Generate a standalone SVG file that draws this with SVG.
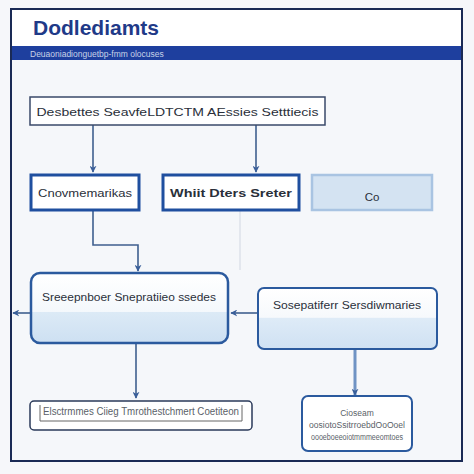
<svg xmlns="http://www.w3.org/2000/svg" width="474" height="474" viewBox="0 0 474 474">
<defs>
<style>
.t{font-family:"Liberation Sans",Arial,sans-serif;fill:#2a2f3a}
.s{fill:#5a5f68}
.con{fill:none;stroke:#3f5f8f;stroke-width:1.6}
.blue{fill:#fff;stroke:#1f4f9f;stroke-width:3}
</style>
<linearGradient id="g1" x1="0" y1="0" x2="0" y2="1">
<stop offset="0" stop-color="#ffffff"/><stop offset="0.55" stop-color="#f4f8fc"/><stop offset="0.56" stop-color="#dceaf6"/><stop offset="1" stop-color="#cde0f2"/>
</linearGradient>
<linearGradient id="g2" x1="0" y1="0" x2="0" y2="1">
<stop offset="0" stop-color="#ffffff"/><stop offset="0.48" stop-color="#f6f9fc"/><stop offset="0.5" stop-color="#deebf7"/><stop offset="1" stop-color="#cfe1f3"/>
</linearGradient>
<marker id="ah" viewBox="0 0 10 10" refX="9" refY="5" markerWidth="7" markerHeight="7" orient="auto" markerUnits="userSpaceOnUse">
<path d="M0,0 L10,5 L0,10 L3,5 Z" fill="#3a5f9a"/>
</marker>
</defs>
<rect width="474" height="474" fill="#f6f7fa"/>
<g id="frame">
<rect x="11" y="9" width="451" height="452" fill="#f5f7fa" stroke="#1a2a55" stroke-width="2"/>
<rect x="12" y="10" width="449" height="36" fill="#ffffff"/>
<text x="33" y="35" class="t" style="font-size:21px;font-weight:bold;fill:#1f3a88">Dodlediamts</text>
<rect x="12" y="46" width="449" height="14" fill="#1e3f9e"/>
<text x="30" y="57" class="t" style="font-size:8.5px;fill:#c8d2e8">Deuaoniadionguetbp-fmm olocuses</text>
</g>
<g id="connectors">
<line x1="93" y1="125" x2="93" y2="172" class="con" marker-end="url(#ah)"/>
<line x1="256" y1="125" x2="256" y2="172" class="con" marker-end="url(#ah)"/>
<polyline points="93,211 93,245 138,245 138,271" class="con" marker-end="url(#ah)"/>
<line x1="240" y1="211" x2="240" y2="270" stroke="#dde2ea" stroke-width="1.5"/>
<line x1="258" y1="313" x2="231" y2="313" class="con" stroke-width="2.5" marker-end="url(#ah)"/>
<line x1="30" y1="313" x2="13" y2="313" class="con" stroke-width="2.5" marker-end="url(#ah)"/>
<line x1="136" y1="343" x2="136" y2="398" class="con" stroke-width="2" marker-end="url(#ah)"/>
<line x1="355" y1="349" x2="355" y2="395" stroke="#6f93c4" stroke-width="3" marker-end="url(#ah)"/>
</g>
<g id="n-top">
<rect x="30" y="97" width="295" height="28" fill="#fff" stroke="#3a4a6a" stroke-width="1.5"/>
<text x="177.5" y="116" text-anchor="middle" class="t" style="font-size:11.5px" textLength="282" lengthAdjust="spacingAndGlyphs">Desbettes SeavfeLDTCTM AEssies Setttiecis</text>
</g>
<g id="n-a">
<rect x="31" y="175" width="108" height="35" class="blue"/>
<text x="85" y="197" text-anchor="middle" class="t" style="font-size:11px" textLength="94" lengthAdjust="spacingAndGlyphs">Cnovmemarikas</text>
</g>
<g id="n-b">
<rect x="163" y="175" width="136" height="35" class="blue"/>
<text x="231" y="197" text-anchor="middle" class="t" style="font-size:11px;font-weight:bold" textLength="122" lengthAdjust="spacingAndGlyphs">Whiit Dters Sreter</text>
</g>
<g id="n-c">
<rect x="312" y="175" width="120" height="35" fill="#d4e3f2" stroke="#a9c4e2" stroke-width="2.5"/>
<text x="372" y="201" text-anchor="middle" class="t" style="font-size:11.5px">Co</text>
</g>
<g id="n-mid-left">
<rect x="31" y="273" width="197" height="70" rx="9" fill="url(#g1)" stroke="#2b5a9e" stroke-width="2.5"/>
<text x="129" y="301" text-anchor="middle" class="t" style="font-size:11.5px" textLength="174" lengthAdjust="spacingAndGlyphs">Sreeepnboer Snepratiieo ssedes</text>
</g>
<g id="n-mid-right">
<rect x="258" y="288" width="179" height="61" rx="6" fill="url(#g2)" stroke="#2b5a9e" stroke-width="2"/>
<text x="347" y="309" text-anchor="middle" class="t" style="font-size:11.5px" textLength="148" lengthAdjust="spacingAndGlyphs">Sosepatiferr Sersdiwmaries</text>
</g>
<g id="n-bot-left">
<rect x="30" y="401" width="222" height="29" rx="4" fill="#fff" stroke="#2a3a5a" stroke-width="1.5"/>
<polyline points="40,405 40,421 242,421 242,405" fill="none" stroke="#666" stroke-width="1"/>
<text x="141" y="415" text-anchor="middle" class="t s" style="font-size:10px" textLength="196" lengthAdjust="spacingAndGlyphs">Elsctrmmes Ciieg Tmrothestchmert Coetiteon</text>
</g>
<g id="n-bot-right">
<rect x="302" y="396" width="110" height="55" rx="6" fill="#fff" stroke="#2b5a9e" stroke-width="2"/>
<text x="357" y="416" text-anchor="middle" class="t s" style="font-size:8.5px">Cioseam</text>
<text x="357" y="428" text-anchor="middle" class="t s" style="font-size:8.5px" textLength="96" lengthAdjust="spacingAndGlyphs">oosiotoSsitrroebdOoOoel</text>
<text x="357" y="440" text-anchor="middle" class="t s" style="font-size:8.5px" textLength="92" lengthAdjust="spacingAndGlyphs">oooeboeeoiotmmmeeomtoes</text>
</g>
</svg>
